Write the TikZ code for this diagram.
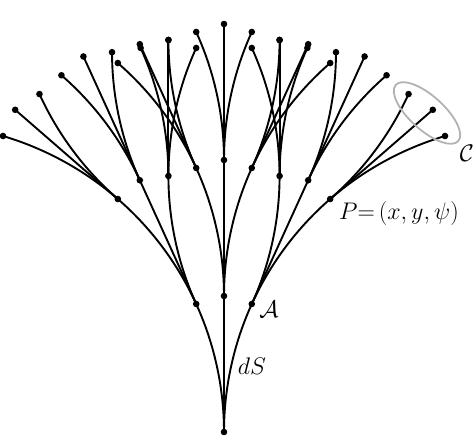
\RequirePackage{fix-cm}
\documentclass[tikz,border=0pt]{standalone}
\usetikzlibrary{calc,shapes.geometric}
\def\T{24.5}
\def\SL{136}
\def\CL{131}
\newcommand\mkedge[4]{%
  \pgfmathsetmacro\myOut{90+(#3)*\T}%
  \pgfmathsetmacro\myIn{270+((#3)+(#4))*\T}%
  \pgfmathsetmacro\myCh{90+((#3)+0.5*(#4))*\T}%
  \ifnum#4=0 \def\myLen{\SL}\else\def\myLen{\CL}\fi
  \coordinate (#2) at ($(#1)+(\myCh:\myLen)$);%
  \draw[branch] (#1) to[out=\myOut,in=\myIn,looseness=0.86] (#2);%
}
\begin{document}
\begin{tikzpicture}[x=1pt,y=1pt,
  branch/.style={line width=1.9pt,line cap=round},
  dot/.style={circle,fill=black,inner sep=0pt,minimum size=6.6pt},
  lab/.style={font=\fontsize{24}{28}\selectfont,inner sep=0pt},
  ring/.style={draw=black!30,line width=1.8pt,ellipse,inner sep=0pt,minimum width=84pt,minimum height=34pt}]
\useasboundingbox (0,0) rectangle (474,437);
\coordinate (r) at (224,5);
\foreach \c/\t in {L/1,S/0,R/-1} {\mkedge{r}{\c}{0}{\t}}
\foreach \p/\k in {L/1,S/0,R/-1} {
  \foreach \c/\t in {L/1,S/0,R/-1} {\mkedge{\p}{\p\c}{\k}{\t}}}
\foreach \p/\k in {LL/2,LS/1,LR/0,SL/1,SS/0,SR/-1,RL/0,RS/-1,RR/-2} {
  \foreach \c/\t in {L/1,S/0,R/-1} {\mkedge{\p}{\p\c}{\k}{\t}}}
\foreach \n in {r,L,S,R,LL,LS,LR,SL,SS,SR,RL,RS,RR,
  LLL,LLS,LLR,LSL,LSS,LSR,LRL,LRS,LRR,
  SLL,SLS,SLR,SSL,SSS,SSR,SRL,SRS,SRR,
  RLL,RLS,RLR,RSL,RSS,RSR,RRL,RRS,RRR} {\node[dot] (d\n) at (\n) {};}
\node[ring,rotate=-42] (cset) at (427,324) {};
\node[lab] (lC) at (467,284) {$\mathcal{C}$};
\node[lab,anchor=west] (lP) at (339,223) {$P{=}\,(x,y,\psi)$};
\node[lab] (lA) at (269,128) {$\mathcal{A}$};
\node[lab] (ldS) at (252,71) {$dS$};
\end{tikzpicture}
\end{document}
